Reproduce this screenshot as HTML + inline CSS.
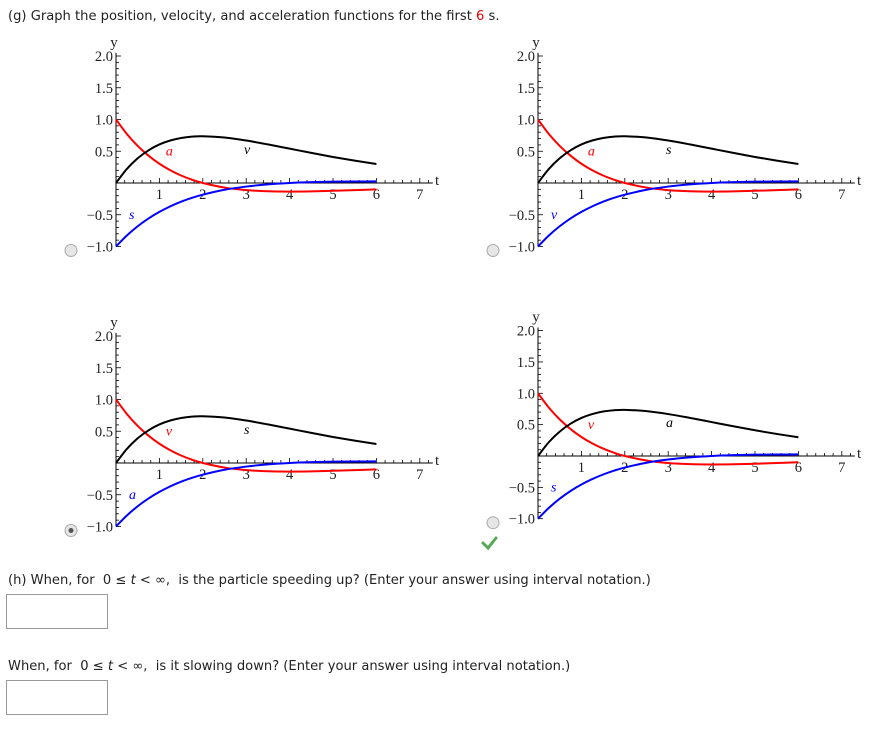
<!DOCTYPE html>
<html><head><meta charset="utf-8">
<style>
body{margin:0;width:870px;height:738px;background:#fff;font-family:"DejaVu Sans","Liberation Sans",sans-serif;font-size:13.1px;color:#222;position:relative;overflow:hidden}
.t{position:absolute;white-space:nowrap}
.box{position:absolute;width:100px;height:33px;border:1px solid #999;background:#fff}
.red{color:#e00}
svg{position:absolute;left:0;top:0}
</style></head><body>
<div class="t" style="left:8px;top:9px">(g) Graph the position, velocity, and acceleration functions for the first <span class="red">6</span> s.</div>
<svg id="plots" width="870" height="560"></svg>
<div class="t" style="left:8px;top:573px">(h) When, for &nbsp;0 ≤ <i>t</i> &lt; ∞, &nbsp;is the particle speeding up? (Enter your answer using interval notation.)</div>
<div class="box" style="left:6px;top:594px"></div>
<div class="t" style="left:8px;top:659px">When, for &nbsp;0 ≤ <i>t</i> &lt; ∞, &nbsp;is it slowing down? (Enter your answer using interval notation.)</div>
<div class="box" style="left:6px;top:680px"></div>
<script>
const times=[0,0.25,0.5,0.75,1,1.25,1.5,1.75,2,2.5,3,3.5,4,4.5,5,5.5,6];
const blackVals=[0,0.221,0.389,0.515,0.607,0.669,0.709,0.730,0.736,0.716,0.669,0.608,0.541,0.474,0.410,0.352,0.299];
const redVals=[1,0.772,0.584,0.430,0.303,0.201,0.118,0.052,0,-0.072,-0.112,-0.130,-0.135,-0.132,-0.123,-0.112,-0.100];
const blueVals=[-1,-0.827,-0.681,-0.558,-0.455,-0.368,-0.295,-0.234,-0.184,-0.107,-0.056,-0.022,0,0.013,0.021,0.024,0.025];
const yTicks=[2.0,1.5,1.0,0.5,-0.5,-1.0];
const yTickLabels=["2.0","1.5","1.0","0.5","\u22120.5","\u22121.0"];
const xTicks=[1,2,3,4,5,6,7];
const panelLabels=[["a","v","s"],["a","s","v"],["v","s","a"],["v","a","s"]];
const panels=[{ox:116,oy:183,sy:63.5,sel:false},{ox:538,oy:183,sy:63.5,sel:false},{ox:116,oy:463,sy:63.5,sel:true},{ox:538,oy:456,sy:62.7,sel:false}];
const NS="http://www.w3.org/2000/svg";
const svg=document.getElementById('plots');
function mk(tag,attrs,parent){const e=document.createElementNS(NS,tag);for(const k in attrs)e.setAttribute(k,attrs[k]);(parent||svg).appendChild(e);return e;}
const SX=43.4;
function pathFrom(xs,ys,X,Y){
  const p=xs.map((t,i)=>[X(t),Y(ys[i])]);
  let d="M"+p[0][0]+","+p[0][1];
  for(let i=0;i<p.length-1;i++){
    const p0=p[i-1]||p[i],p1=p[i],p2=p[i+1],p3=p[i+2]||p2;
    const c1=[p1[0]+(p2[0]-p0[0])/6,p1[1]+(p2[1]-p0[1])/6];
    const c2=[p2[0]-(p3[0]-p1[0])/6,p2[1]-(p3[1]-p1[1])/6];
    d+=` C${c1[0]},${c1[1]} ${c2[0]},${c2[1]} ${p2[0]},${p2[1]}`;
  }
  return d;
}
panels.forEach((P,pi)=>{
  const g=mk('g',{});
  
  
  const X=t=>P.ox+t*SX, Y=v=>P.oy-v*P.sy;
  mk('line',{x1:X(0),y1:Y(2.05),x2:X(0),y2:Y(-1.0),stroke:'#000','stroke-width':1},g);
  mk('line',{x1:X(0),y1:P.oy,x2:X(7.3),y2:P.oy,stroke:'#000','stroke-width':1},g);
  for(let k=-10;k<=20;k++){const v=k/10;const len=(k%5===0)?5:3;mk('line',{x1:X(0),y1:Y(v),x2:X(0)+len,y2:Y(v),stroke:'#000','stroke-width':0.8},g);}
  for(let k=1;k<=36;k++){const t=k/5;const len=(k%5===0)?5:3;mk('line',{x1:X(t),y1:P.oy,x2:X(t),y2:P.oy-len,stroke:'#000','stroke-width':0.8},g);}
  yTicks.forEach((v,i)=>{const tx=mk('text',{x:X(0)-3,y:Y(v)+5,'text-anchor':'end','font-family':'Liberation Serif, serif','font-size':14.5,fill:'#222'},g);tx.textContent=yTickLabels[i];});
  xTicks.forEach(t=>{const tx=mk('text',{x:X(t),y:P.oy+16,'text-anchor':'middle','font-family':'Liberation Serif, serif','font-size':14.5,fill:'#222'},g);tx.textContent=t;});
  const ty=mk('text',{x:X(0)-2,y:Y(2.05)-6,'text-anchor':'middle','font-family':'Liberation Serif, serif','font-size':15,fill:'#222'},g);ty.textContent='y';
  const tt=mk('text',{x:X(7.35),y:P.oy+2,'font-family':'Liberation Serif, serif','font-size':15,fill:'#222'},g);tt.textContent='t';
  const series=[[redVals,'#f00'],[blackVals,'#000'],[blueVals,'#00f']];
  series.forEach(([vals,col],si)=>{
    const pa=mk('path',{d:pathFrom(times,vals,X,Y),fill:'none',stroke:col,'stroke-width':2},g);
    
    
  });
  const L=panelLabels[pi];
  const lp=[[X(1.15),Y(0.43),'#f00',L[0]],[X(2.95),Y(0.46),'#000',L[1]],[X(0.3),Y(-0.57),'#00f',L[2]]];
  lp.forEach(([x,y,c,s])=>{const tx=mk('text',{x:x,y:y,'font-family':'Liberation Serif, serif','font-style':'italic','font-size':14,fill:c},g);tx.textContent=s;});
  const r=mk('circle',{cx:P.ox-45,cy:Y(-1)+4,r:6,fill:'#e6e6e6',stroke:'#aaa','stroke-width':1},g);
  
  
  if(P.sel) mk('circle',{cx:P.ox-45,cy:Y(-1)+4,r:2.5,fill:'#555'},g);
});
const ck=mk('path',{d:'M483,543 L488,548 L496,538',fill:'none',stroke:'#5a5','stroke-width':3,'stroke-linecap':'round'});


</script>
</body></html>
